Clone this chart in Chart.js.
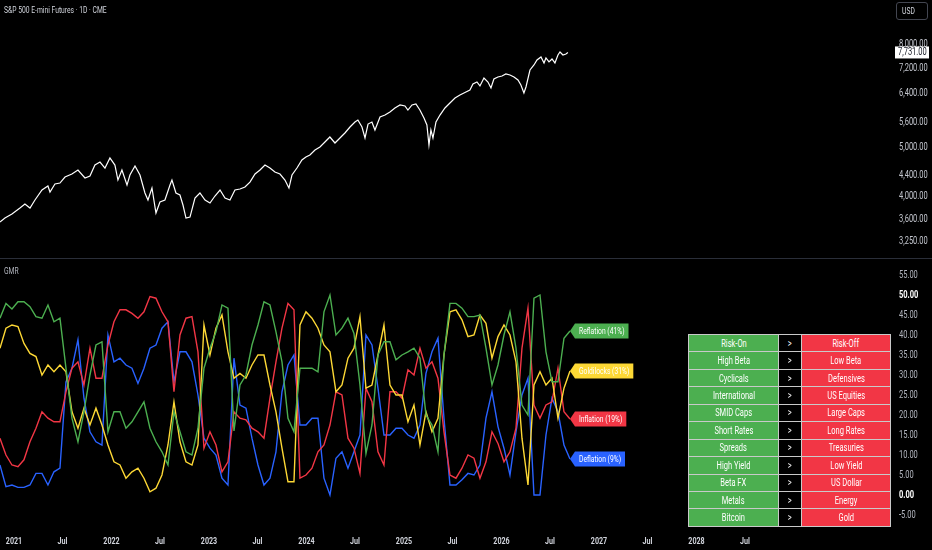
<!DOCTYPE html>
<html>
<head>
<meta charset="utf-8">
<title>S&P 500 E-mini Futures - GMR</title>
<script src="https://cdn.jsdelivr.net/npm/chart.js@4.4.1/dist/chart.umd.min.js"></script>
<style>
  html, body { margin: 0; padding: 0; background: #000; }
  body { width: 932px; height: 550px; position: relative; overflow: hidden;
         font-family: Roboto, sans-serif; color: #d1d4dc; }
  #pricePane { position: absolute; left: 0; top: 0; }
  #gmrPane { position: absolute; left: 0; top: 259px; }
  .sep { position: absolute; left: 0; top: 258px; width: 932px; height: 1px; background: #2a2e39; }
  .sq { display: inline-block; transform: scaleX(0.75); transform-origin: left center; white-space: nowrap; }
  .title { position: absolute; left: 4px; top: 5px; font-size: 9px; color: #d1d4dc; }
  .gmr { position: absolute; left: 4px; top: 266px; font-size: 9px; color: #b2b5be; }
  .usd { position: absolute; left: 896px; top: 2px; width: 32px; height: 18px; box-sizing: border-box;
         border: 1px solid #434651; border-radius: 3px; font-size: 9px; line-height: 16px;
         padding-left: 5px; color: #d1d4dc; }
  table.pairs { position: absolute; left: 688px; top: 334px; border-collapse: collapse;
                font-size: 10px; color: #fff; }
  table.pairs td { border: 1px solid #c9c9c9; height: 16.45px; padding: 0; text-align: center; }
  table.pairs td .sq { transform-origin: center center; }
  td.on { background: #4caf50; width: 89px; }
  td.gt { background: #000; width: 22px; }
  td.off { background: #f23645; width: 88px; }
</style>
</head>
<body>
<canvas id="pricePane" width="932" height="258"></canvas>
<div class="sep"></div>
<canvas id="gmrPane" width="932" height="291"></canvas>
<div class="title"><span class="sq">S&amp;P 500 E-mini Futures · 1D · CME</span></div>
<div class="gmr"><span class="sq">GMR</span></div>
<div class="usd"><span class="sq">USD</span></div>
<table class="pairs" id="pairs"></table>

<script>
// time axis (decimal years)
const X_MIN = 2020.8564;
const X_MAX = 2029.9846;
const xTickValues = [2021, 2021.496, 2022, 2022.496, 2023, 2023.496, 2024, 2024.496,
                     2025, 2025.496, 2026, 2026.496, 2027, 2027.496, 2028, 2028.496];
const xTickLabels = ['2021', 'Jul', '2022', 'Jul', '2023', 'Jul', '2024', 'Jul',
                     '2025', 'Jul', '2026', 'Jul', '2027', 'Jul', '2028', 'Jul'];

// S&P 500 E-mini futures (log scale)
const priceTicks = [3250, 3600, 4000, 4400, 5000, 5600, 6400, 7200, 8000];
const lastPrice = 7731;
const priceDates = [
  2020.856, 2020.907, 2020.979, 2021.061, 2021.112, 2021.164, 2021.215, 2021.287, 2021.348, 2021.369,
  2021.420, 2021.471, 2021.523, 2021.594, 2021.656, 2021.728, 2021.779, 2021.830, 2021.882, 2021.933,
  2021.984, 2022.035, 2022.066, 2022.107, 2022.159, 2022.189, 2022.241, 2022.292, 2022.343, 2022.374,
  2022.415, 2022.456, 2022.497, 2022.548, 2022.600, 2022.620, 2022.661, 2022.702, 2022.733, 2022.764,
  2022.805, 2022.856, 2022.907, 2022.959, 2023.010, 2023.061, 2023.113, 2023.164, 2023.215, 2023.266,
  2023.318, 2023.369, 2023.420, 2023.472, 2023.523, 2023.574, 2023.625, 2023.676, 2023.728, 2023.779,
  2023.820, 2023.851, 2023.902, 2023.953, 2023.994, 2024.035, 2024.087, 2024.138, 2024.189, 2024.240,
  2024.292, 2024.343, 2024.394, 2024.446, 2024.497, 2024.527, 2024.569, 2024.600, 2024.631, 2024.671,
  2024.702, 2024.754, 2024.805, 2024.856, 2024.907, 2024.959, 2025.010, 2025.040, 2025.082, 2025.122,
  2025.163, 2025.205, 2025.235, 2025.256, 2025.276, 2025.297, 2025.328, 2025.369, 2025.420, 2025.471,
  2025.523, 2025.574, 2025.635, 2025.676, 2025.707, 2025.748, 2025.779, 2025.820, 2025.861, 2025.892,
  2025.922, 2025.963, 2026.005, 2026.045, 2026.087, 2026.128, 2026.169, 2026.199, 2026.230, 2026.251,
  2026.292, 2026.333, 2026.364, 2026.405, 2026.436, 2026.456, 2026.487, 2026.518, 2026.548, 2026.579,
  2026.600, 2026.630, 2026.661, 2026.681
];
const priceValues = [
  3560, 3626, 3693, 3795, 3865, 3795, 3937, 4121, 4197, 4084,
  4236, 4255, 4374, 4434, 4516, 4354, 4394, 4620, 4684, 4557,
  4771, 4620, 4314, 4516, 4216, 4414, 4599, 4414, 4065, 3937,
  4159, 3709, 3901, 3937, 4216, 4314, 4065, 4028, 3848, 3626,
  3642, 3973, 4065, 3937, 3883, 4010, 4121, 3973, 3937, 4121,
  4140, 4178, 4274, 4434, 4516, 4620, 4557, 4475, 4434, 4314,
  4159, 4414, 4557, 4727, 4793, 4837, 4948, 5017, 5133, 5252,
  5110, 5228, 5349, 5497, 5625, 5676, 5497, 5228, 5573, 5625,
  5422, 5754, 5807, 5888, 5997, 6080, 6052, 5942, 6080, 6107,
  5942, 5728, 5548, 5063, 5422, 5228, 5625, 5807, 5997, 6135,
  6278, 6364, 6452, 6511, 6693, 6754, 6632, 6879, 6754, 6571,
  6847, 6910, 6942, 7006, 6974, 6910, 6816, 6662, 6422, 6602,
  7135, 7301, 7470, 7573, 7368, 7538, 7402, 7504, 7368, 7642,
  7748, 7642, 7678, 7731
];

// GMR regime shares (%), one reading every ~3 weeks
const gmrStart = 2020.856;
const gmrStep = 0.06154;
const gmrTicks = [-5, 0, 5, 10, 15, 20, 25, 30, 35, 40, 45, 50, 55];
const reflation = [
  44.2, 47.9, 46.5, 48.3, 48.3, 47.1, 44.6, 44.2, 47.5, 43.3, 44.2, 31.7, 19.2, 13.3, 20.8, 30, 37.5, 38.3, 15.8, 20.8,
  20.8, 16.7, 18.3, 20.8, 23.3, 16.7, 13.3, 10.8, 7.5, 20.8, 15.8, 10.8, 10, 16.7, 31.7, 36.7, 40.8, 47.5, 46.7, 16,
  27.5, 30, 37.5, 42.5, 48.3, 47.5, 40.8, 33.3, 19.2, 15.8, 31.7, 31.7, 31.7, 30.8, 45.8, 50, 40, 41.7, 44.2, 40.4,
  27.5, 10.4, 17.5, 35, 38.3, 38.3, 33.8, 35, 35.8, 36.7, 34.2, 20, 17.5, 10.8, 35, 47.9, 47.9, 46.7, 44.6, 44.6,
  45, 36.7, 27.5, 32.5, 40, 45.8, 36.7, 22.5, 20, 49.2, 50, 35.8, 28.3, 28.3, 39.2, 41
];
const goldilocks = [
  36.7, 41.7, 42.5, 42.1, 37.9, 35.4, 34.6, 30, 32.5, 30.8, 32.5, 30.8, 20.8, 16.7, 21.7, 17.5, 21.7, 17.5, 12.5, 8.3,
  7.5, 4.2, 5.8, 6.7, 4.2, 0.8, 1.7, 5, 12.5, 23.3, 13.3, 8.3, 7.5, 12.5, 42.5, 35, 41.7, 45, 35.8, 29.2,
  30.4, 29.2, 32.5, 35, 35, 27.5, 20.8, 11.7, 3.3, 3.3, 42.5, 45.8, 44.2, 41.7, 37.5, 35.8, 25.8, 27.5, 34.2, 36.7,
  44.6, 26.7, 27.5, 35, 42.5, 27.5, 25, 25, 18.3, 22.5, 12.5, 20.8, 15.8, 19.2, 35, 45.8, 46.3, 43.8, 39.6, 40,
  45, 42.9, 34.2, 39.6, 42.5, 40, 33.3, 14.2, 2.5, 27.5, 30.8, 27.5, 29.2, 19.2, 26.7, 31
];
const inflation = [
  14.2, 10, 7.5, 7.1, 8.8, 13.3, 16.7, 20.8, 19.2, 18.3, 18.3, 25.8, 31.7, 33.3, 27.5, 36.7, 29.2, 29.2, 37.5, 43.3,
  46.3, 46.3, 45.4, 44.2, 45.8, 49.6, 49.2, 45.8, 43.3, 25.8, 40, 44.2, 44.6, 35.8, 11.7, 15.8, 12.5, 5.8, 8.3, 20.8,
  19.2, 18.8, 16.7, 15.8, 14.2, 24.2, 33.3, 41.7, 47.9, 46.3, 4.2, 5, 6.7, 10.8, 12.5, 17.5, 25.8, 25, 14.2, 11.7,
  5.4, 26.7, 23.3, 10.8, 7.5, 25.8, 25.8, 24.2, 31.3, 30, 36.7, 31.7, 33.3, 29.2, 15.8, 5, 4.2, 6.7, 10, 9.2,
  4.2, 8.3, 15.8, 12.9, 8.3, 10.8, 16.7, 36.7, 46.7, 22.5, 19.2, 22.5, 23.3, 31.7, 20.8, 19
];
const deflation = [
  7.5, 2.1, 2.5, 1.9, 1.9, 2.5, 5.4, 5.4, 2.5, 5.8, 6.7, 28.3, 31.7, 38.8, 24.2, 15.8, 13.3, 12.5, 40, 33.3,
  34.2, 32.5, 31.7, 27.9, 31.7, 36.7, 37.5, 41.7, 43.3, 28.3, 35.8, 35.8, 33.3, 25, 14.2, 11.7, 10, 4.2, 2.5, 34.2,
  22.5, 21.7, 14.2, 7.5, 2.5, 4.2, 10.8, 25.8, 32.5, 35, 17.5, 17.5, 19.2, 19.2, 4.2, 0, 9.2, 10.8, 6.7, 10.8,
  15, 40, 37.5, 26.7, 15, 15, 16.7, 16.7, 15, 14.2, 17.5, 30.4, 35.8, 39.2, 19.2, 2.5, 2.5, 3.8, 5.4, 5,
  7.5, 19.2, 25.8, 17.1, 11.7, 5, 15.8, 25, 29.2, 0, 0, 15, 24.2, 20.8, 12.5, 9
];
const regimeNames = ['Reflation', 'Goldilocks', 'Inflation', 'Deflation'];
const regimeColors = ['#4caf50', '#fdd835', '#f23645', '#2962ff'];

// risk-on vs risk-off pairs
const riskOn = ['Risk-On', 'High Beta', 'Cyclicals', 'International', 'SMID Caps', 'Short Rates',
                'Spreads', 'High Yield', 'Beta FX', 'Metals', 'Bitcoin'];
const riskOff = ['Risk-Off', 'Low Beta', 'Defensives', 'US Equities', 'Large Caps', 'Long Rates',
                 'Treasuries', 'Low Yield', 'US Dollar', 'Energy', 'Gold'];

const FONT = 'Roboto, sans-serif';
const SQUASH = 0.75;   // screenshot text is horizontally condensed

function fmt2(v) {
  return Number(v).toLocaleString('en-US', { minimumFractionDigits: 2, maximumFractionDigits: 2 });
}

// fixed right axis, no extra vertical padding from the labels
function fixedRightAxis(scale) {
  scale.width = 42;
  scale.paddingTop = 0;
  scale.paddingBottom = 0;
}

// narrow every label the chart draws, scaling about its anchor point
const condensedText = {
  id: 'condensedText',
  beforeInit: function(chart) {
    const ctx = chart.ctx;
    if (ctx._condensed) return;
    const orig = ctx.fillText.bind(ctx);
    ctx.fillText = function(text, x, y, maxWidth) {
      ctx.save();
      ctx.translate(x, y);
      ctx.scale(SQUASH, 1);
      if (maxWidth === undefined) orig(text, 0, 0);
      else orig(text, 0, 0, maxWidth / SQUASH);
      ctx.restore();
    };
    ctx._condensed = true;
  }
};

// table
const table = document.getElementById('pairs');
riskOn.forEach(function(name, i) {
  const tr = document.createElement('tr');
  tr.innerHTML = '<td class="on"><span class="sq">' + name + '</span></td>' +
                 '<td class="gt"><span class="sq">&gt;</span></td>' +
                 '<td class="off"><span class="sq">' + riskOff[i] + '</span></td>';
  table.appendChild(tr);
});

// current price tag on the right axis
const priceTag = {
  id: 'priceTag',
  afterDraw: function(chart) {
    const ctx = chart.ctx;
    const y = chart.scales.y.getPixelForValue(lastPrice);
    ctx.save();
    ctx.fillStyle = '#fff';
    ctx.fillRect(895, y - 6, 34, 12);
    ctx.fillStyle = '#131722';
    ctx.font = '10px ' + FONT;
    ctx.textBaseline = 'middle';
    ctx.fillText(fmt2(lastPrice), 898, y + 0.5);
    ctx.restore();
  }
};

new Chart(document.getElementById('pricePane'), {
  type: 'line',
  data: {
    datasets: [{
      data: priceDates.map(function(t, i) { return { x: t, y: priceValues[i] }; }),
      borderColor: '#ffffff',
      borderWidth: 1.2,
      pointRadius: 0,
      tension: 0
    }]
  },
  options: {
    responsive: false,
    animation: false,
    layout: { padding: 0 },
    plugins: { legend: { display: false }, tooltip: { enabled: false } },
    scales: {
      x: { type: 'linear', min: X_MIN, max: X_MAX, display: false },
      y: {
        type: 'logarithmic', position: 'right', min: 3020, max: 9827,
        afterBuildTicks: function(scale) { scale.ticks = priceTicks.map(function(v) { return { value: v }; }); },
        afterFit: fixedRightAxis,
        grid: { display: false, drawTicks: false },
        border: { display: false },
        ticks: { color: '#c3c6ce', font: { size: 10, family: FONT }, padding: 9,
                 callback: function(v) { return fmt2(v); } }
      }
    }
  },
  plugins: [condensedText, priceTag]
});

// regime tags at the end of each line
const regimeTags = {
  id: 'regimeTags',
  afterDatasetsDraw: function(chart) {
    const ctx = chart.ctx;
    ctx.save();
    ctx.font = '9px ' + FONT;
    ctx.textBaseline = 'middle';
    chart.data.datasets.forEach(function(ds, i) {
      const pts = chart.getDatasetMeta(i).data;
      const p = pts[pts.length - 1];
      const last = ds.data[ds.data.length - 1].y;
      const text = regimeNames[i] + ' (' + Math.round(last) + '%)';
      const w = ctx.measureText(text).width * SQUASH + 8;
      const x = p.x, y = p.y, h = 15;
      ctx.fillStyle = regimeColors[i];
      ctx.beginPath();
      ctx.moveTo(x, y);
      ctx.lineTo(x + 5, y - h / 2);
      ctx.lineTo(x + 5 + w, y - h / 2);
      ctx.lineTo(x + 5 + w, y + h / 2);
      ctx.lineTo(x + 5, y + h / 2);
      ctx.closePath();
      ctx.fill();
      ctx.fillStyle = '#fff';
      ctx.fillText(text, x + 9, y + 0.5);
    });
    ctx.restore();
  }
};

const gmrSeries = [reflation, goldilocks, inflation, deflation];

new Chart(document.getElementById('gmrPane'), {
  type: 'line',
  data: {
    datasets: gmrSeries.map(function(vals, k) {
      return {
        label: regimeNames[k],
        data: vals.map(function(v, i) { return { x: gmrStart + i * gmrStep, y: v }; }),
        borderColor: regimeColors[k],
        borderWidth: 1.4,
        pointRadius: 0,
        tension: 0
      };
    })
  },
  options: {
    responsive: false,
    animation: false,
    layout: { padding: 0 },
    plugins: { legend: { display: false }, tooltip: { enabled: false } },
    scales: {
      x: {
        type: 'linear', min: X_MIN, max: X_MAX,
        afterBuildTicks: function(scale) { scale.ticks = xTickValues.map(function(v) { return { value: v }; }); },
        afterFit: function(scale) {
          scale.height = 22;
          scale.paddingLeft = 0;
          scale.paddingRight = 0;
        },
        grid: { display: false, drawTicks: false },
        border: { display: false },
        ticks: { color: '#d1d4dc', font: { size: 9.5, weight: 'bold', family: FONT }, padding: 8,
                 maxRotation: 0, autoSkip: false,
                 callback: function(v, i) { return xTickLabels[i]; } }
      },
      y: {
        position: 'right', min: -8.25, max: 59,
        afterBuildTicks: function(scale) { scale.ticks = gmrTicks.map(function(v) { return { value: v }; }); },
        afterFit: fixedRightAxis,
        grid: { display: false, drawTicks: false },
        border: { display: false },
        ticks: {
          padding: 9,
          color: function(c) { return (c.tick.value === 50 || c.tick.value === 0) ? '#ffffff' : '#b2b5be'; },
          font: function(c) {
            const strong = c.tick && (c.tick.value === 50 || c.tick.value === 0);
            return { size: 10, family: FONT, weight: strong ? 'bold' : 'normal' };
          },
          callback: function(v) { return fmt2(v); }
        }
      }
    }
  },
  plugins: [condensedText, regimeTags]
});
</script>
</body>
</html>
